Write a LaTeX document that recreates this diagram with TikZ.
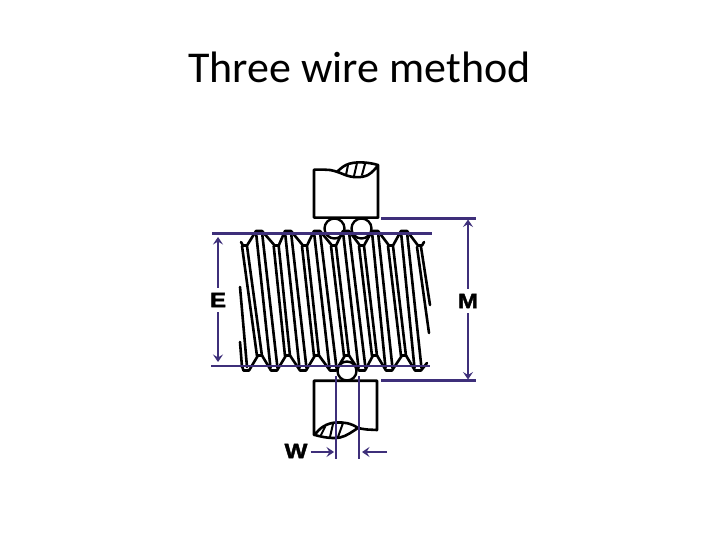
\documentclass[tikz,border=0pt]{standalone}
\usepackage{fontspec}
\setmainfont{Carlito}
\newfontfamily\labelfont{Liberation Sans Bold}[FakeBold=2,FakeStretch=1.18]
\usetikzlibrary{arrows.meta}
\definecolor{dimpurple}{RGB}{62,47,122}
\tikzset{
  ink/.style={draw=black,line width=2.6pt,line join=round,line cap=round},
  thin ink/.style={draw=black,line width=2pt,line join=round,line cap=round},
  dimline/.style={draw=dimpurple,line width=2.5pt},
  dimarrow/.style={draw=dimpurple,line width=2.2pt,-{Stealth[length=7.5pt,width=10pt,inset=3pt]}},
  dimlabel/.style={font=\labelfont\fontsize{20.5}{20.5}\selectfont,text=black,inner sep=5pt},
  wire/.style={draw=black,line width=2.4pt}
}
\begin{document}
\begin{tikzpicture}[x=1pt,y=-1pt]
\useasboundingbox[fill=white] (0,0) rectangle (720,540);
\node[font=\fontsize{44}{44}\selectfont,anchor=base,inner sep=0pt] (title) at (359.5,82.5) {Three wire method};

% thread flanks: crest to crest
\foreach \c/\b in {259/274,288/303,317/333,346/362,375/389,404/418}{
  \draw[ink] (\c-3,232) -- (\b-3.5,368);
  \draw[ink] (\c+3,232) -- (\b+3.5,368);
}
% thread flanks: root to root
\foreach \r/\p in {245/260,276.7/288,305/317,334/347,362/375,391/404}{
  \draw[ink] (\r-3,246) -- (\p-3,356);
  \draw[ink] (\r+2,246) -- (\p+2,356);
}
% end lines
\draw[ink] (240,287) -- (247,367);
\draw[ink] (240,342) -- (242,367);
\draw[ink] (417,247) -- (429,333);
\draw[ink] (421,247) -- (430,305);

% top profile
\draw[ink] (241,242) -- (243,245.5) -- (247,245.5)
  \foreach \c/\r in {259/276.7,288/305,317/334,346/362,375/391,404/420}{
    -- (\c-3,231) -- (\c+3,231) -- (\r-2,245.5) -- (\r+2,245.5)
  } -- (424,242);
% bottom profile
\draw[ink] (242,366) -- (243.5,370.5) -- (249,370.5)
  \foreach \p/\b in {260/274,288/303,317/333,347/362,375/389,404/418}{
    -- (\p-2,355.5) -- (\p+2,355.5) -- (\b-3,370.5) -- (\b+3,370.5)
  } -- (427,363);

% top anvil
\draw[ink] (378,165) -- (378,217.7) -- (314,217.7) -- (314,169.7) -- (325,169.7)
  .. controls (332,169.5) and (338,172) .. (344,174.5)
  .. controls (352,178) and (362,178) .. (368,175)
  .. controls (373,172) and (376,168) .. (378,165)
  .. controls (368,162) and (354,161) .. (346,165)
  .. controls (342,167) and (339,170) .. (337,172);
\draw[thin ink] (348,165) -- (346,175);
\draw[thin ink] (357,163) -- (354,176);
\draw[thin ink] (365,164) -- (362,175);

% bottom anvil
\draw[ink] (314,435) -- (314,380.7) -- (377,380.7) -- (377,430) -- (367,429.5)
  .. controls (363,429) and (360,428.5) .. (358,428)
  .. controls (351,423) and (343,422) .. (336,422.5)
  .. controls (327,423) and (319,428) .. (315,435)
  .. controls (322,437) and (332,439) .. (340,437.5)
  .. controls (347,436) and (353,431) .. (358,428);
\draw[thin ink] (325,427) -- (321,435);
\draw[thin ink] (333,424) -- (330,437);
\draw[thin ink] (343,423) -- (338,437);

% wires
\draw[wire] (334.5,228.5) circle[radius=10];
\draw[wire] (361.5,228.5) circle[radius=10];
\draw[wire] (347,371) circle[radius=9.5];

% dimension lines
\coordinate (etl) at (212,233.3); \coordinate (etr) at (432,233.3);
\coordinate (ebl) at (211,366);   \coordinate (ebr) at (430,366);
\coordinate (mtl) at (381,218.3); \coordinate (mtr) at (476,218.3);
\coordinate (mbl) at (381,380.7); \coordinate (mbr) at (476,380.7);
\coordinate (wla) at (336,376);   \coordinate (wlb) at (336,459);
\coordinate (wra) at (359,376);   \coordinate (wrb) at (359,459);
\draw[dimline] (etl) -- (etr);
\draw[dimline] (ebl) -- (ebr);
\draw[dimline] (mtl) -- (mtr);
\draw[dimline] (mbl) -- (mbr);
\draw[dimline] (wla) -- (wlb);
\draw[dimline] (wra) -- (wrb);

\node[dimlabel] (E) at (218,300) {E};
\node[dimlabel] (M) at (468,301) {M};
\node[dimlabel,inner xsep=3pt] (W) at (296,451) {W};
\coordinate (eup) at (218,237);  \coordinate (edn) at (218,362);
\coordinate (mup) at (468,219.5);\coordinate (mdn) at (468,379.5);
\coordinate (wat) at (334,452);
\coordinate (wfr) at (387,452);  \coordinate (wto) at (362,452);
\draw[dimarrow] (E.north) -- (eup);
\draw[dimarrow] (E.south) -- (edn);
\draw[dimarrow] (M.north) -- (mup);
\draw[dimarrow] (M.south) -- (mdn);
\draw[dimarrow] (W.east |- wat) -- (wat);
\draw[dimarrow] (wfr) -- (wto);
\end{tikzpicture}
\end{document}
